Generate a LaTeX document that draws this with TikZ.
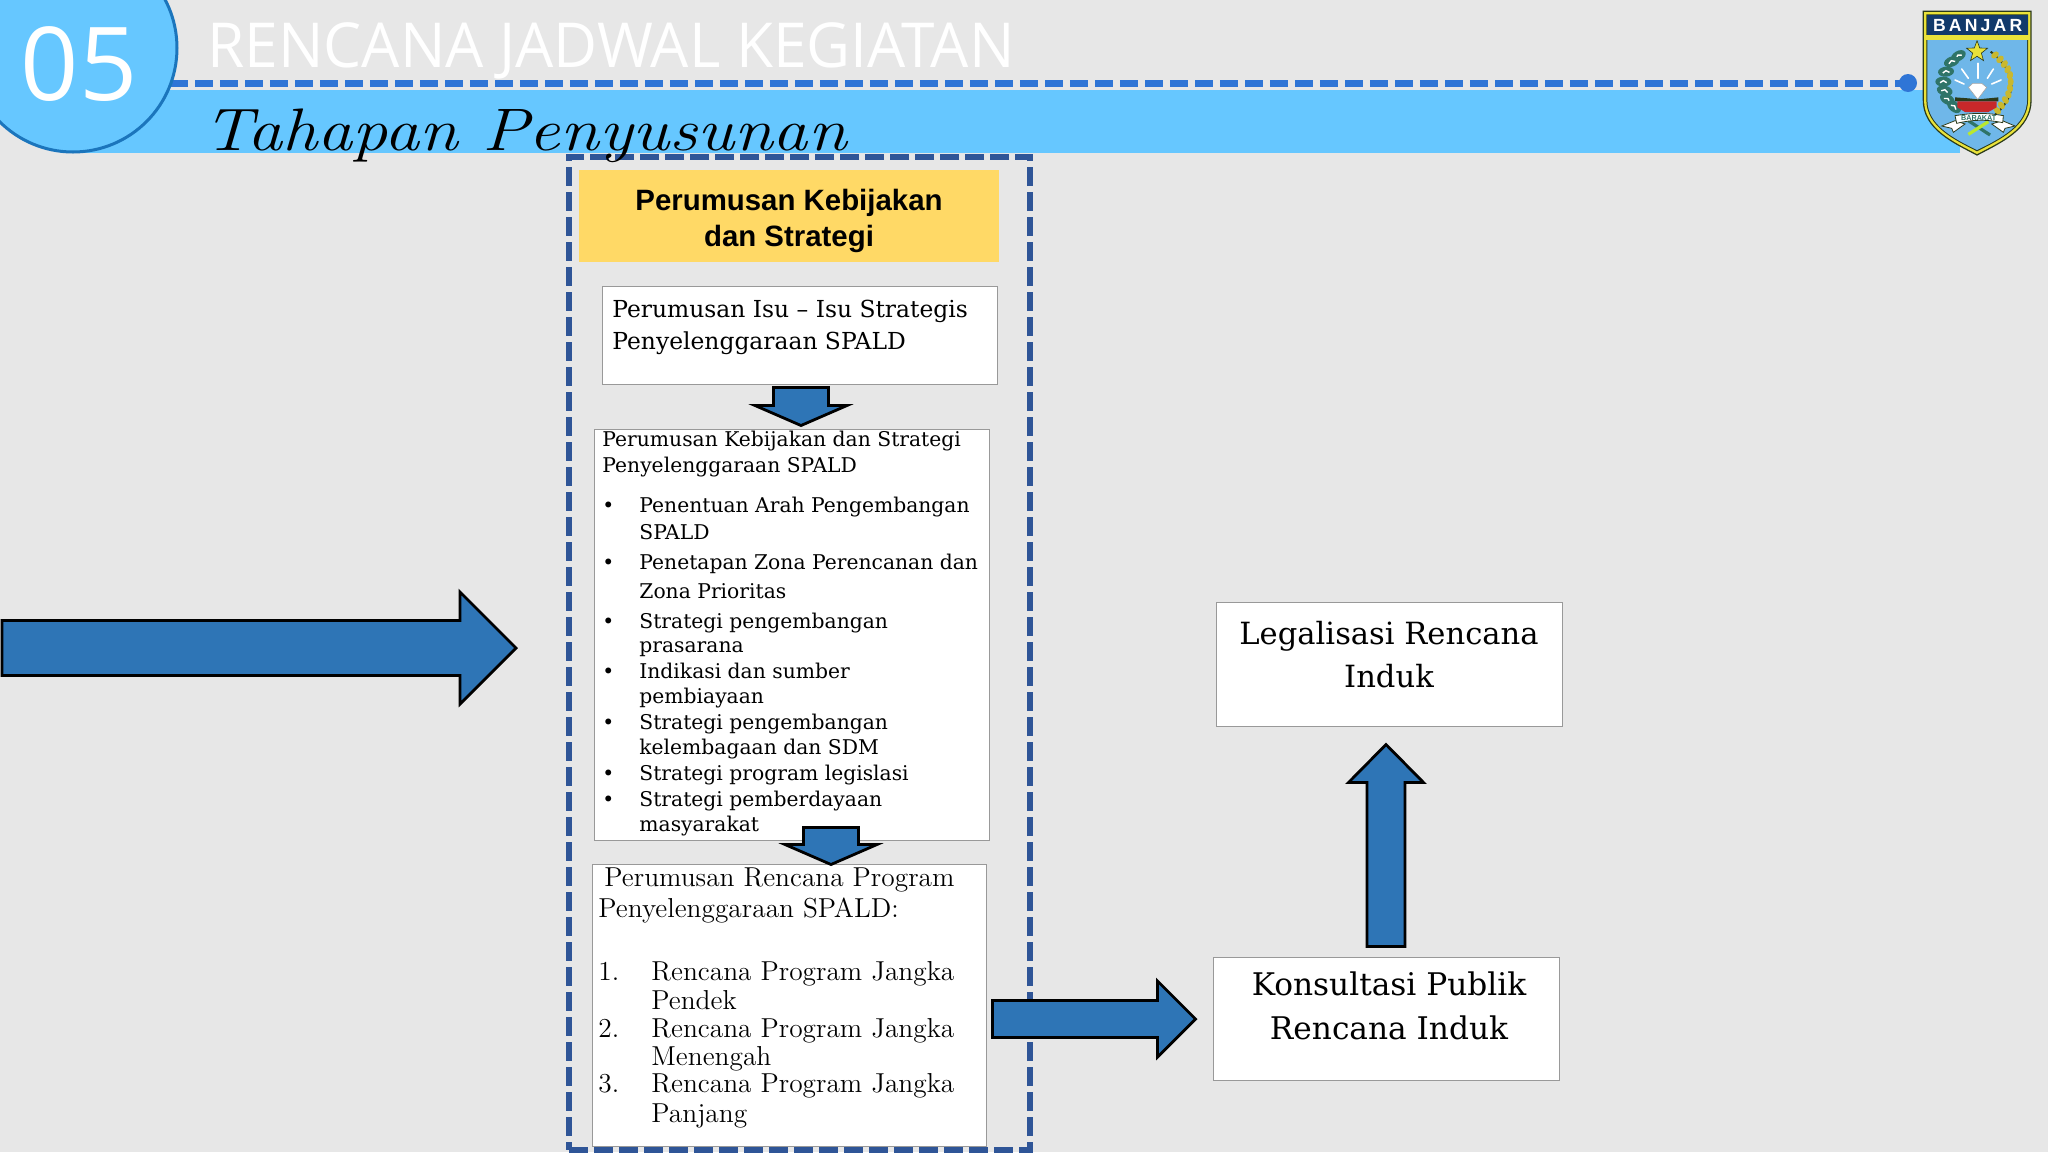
\documentclass[tikz,border=0pt]{standalone}
\usepackage{fontspec}
\usepackage{graphicx}
\usepackage{tikz}
\usetikzlibrary{calc, shapes.geometric}
\newfontfamily\titlefont{Open Sans}
\newfontfamily\headfont{Liberation Sans}
\newfontfamily\crestfont[LetterSpace=18]{Liberation Sans}
\newfontfamily\boxfont{DejaVu Serif}
\definecolor{pagegrey}{HTML}{E7E7E7}
\definecolor{bandblue}{HTML}{66C7FF}
\definecolor{ringblue}{HTML}{1B75BC}
\definecolor{dashblue}{HTML}{2F75D6}
\definecolor{framenavy}{HTML}{2F5597}
\definecolor{headyellow}{HTML}{FFD966}
\definecolor{arrowblue}{HTML}{2E75B6}
\definecolor{boxline}{HTML}{999999}
\definecolor{crestdark}{HTML}{2B3A1A}
\definecolor{crestyellow}{HTML}{E9E23A}
\definecolor{crestsky}{HTML}{6FB7E9}
\definecolor{crestnavy}{HTML}{123A6B}
\definecolor{crestteal}{HTML}{2F7468}
\definecolor{crestgold}{HTML}{C9B82E}
\definecolor{crestred}{HTML}{C8282A}
\tikzset{
  whitebox/.style={draw=boxline, line width=0.5pt, fill=white, inner sep=0pt},
  headbox/.style={fill=headyellow, inner sep=0pt},
  boxtext/.style={anchor=north west, inner sep=0pt, align=left},
  midtext/.style={inner sep=0pt, align=center},
  blockarrow/.style n args={3}{draw=black, fill=arrowblue, line width=1.4pt, to path={
    ($(\tikztostart)!#1!90:(\tikztotarget)$)
    -- ($(\tikztotarget)!#3!(\tikztostart)!#1!-90:(\tikztostart)$)
    -- ($(\tikztotarget)!#3!(\tikztostart)!#2!-90:(\tikztostart)$)
    -- (\tikztotarget)
    -- ($(\tikztotarget)!#3!(\tikztostart)!#2!90:(\tikztostart)$)
    -- ($(\tikztotarget)!#3!(\tikztostart)!#1!90:(\tikztostart)$)
    -- ($(\tikztostart)!#1!-90:(\tikztotarget)$) -- cycle}},
}
\newcommand{\listrow}[3]{\makebox[#1][l]{#2}#3}
\newcommand{\shieldpath}[1]{(248+#1,32+#1) -- (575-#1,32+#1) -- (575-#1,300)
  .. controls (575-#1,390-#1) and (480,430-#1) .. (411,467-1.2*#1)
  .. controls (342,430-#1) and (248+#1,390-#1) .. (248+#1,300) -- cycle}
\begin{document}
\begin{tikzpicture}[x=0.5pt, y=-0.5pt]
  \useasboundingbox (0,0) rectangle (2048,1152);
  \fill[pagegrey] (0,0) rectangle (2048,1152);
  % header
  \fill[bandblue] (60,90) rectangle (1960,153);
  \draw[dashblue, line width=3.5pt, dash pattern=on 9pt off 3.5pt] (170,83) -- (1908,83);
  \fill[dashblue] (1908,83) circle (9);
  \draw[ringblue, fill=bandblue, line width=1.5pt] (73,48) circle (104);
  \node[text=white, font=\titlefont\fontsize{51}{51}\selectfont, inner sep=0pt] (secnum) at (79,64) {05};
  \node[text=white, font=\titlefont\fontsize{31}{31}\selectfont, inner sep=0pt, anchor=base west] (sectitle) at (207,67)
    {\scalebox{0.974}[1]{RENCANA JADWAL KEGIATAN}};

  % dashed frame and boxes
  \node[draw=framenavy, line width=3pt, dash pattern=on 9.5pt off 3pt, minimum width=230.5pt, minimum height=496.5pt] (frame) at (799.5,653.5) {};
  \node[headbox, minimum width=210pt, minimum height=46pt] (head) at (789,216) {};
  \node[midtext, font=\headfont\bfseries\fontsize{14.7}{17.8}\selectfont] (headtext) at (789,221)
    {Perumusan Kebijakan\\dan Strategi};
  \node[whitebox, minimum width=197.5pt, minimum height=49pt] (isu) at (799.5,335) {};
  \node[whitebox, minimum width=197.5pt, minimum height=205.5pt] (kebijakan) at (791.5,634.5) {};
  \node[whitebox, minimum width=197pt, minimum height=141pt] (program) at (789,1005) {};
  \node[whitebox, minimum width=173pt, minimum height=62pt] (legal) at (1389,664) {};
  \node[whitebox, minimum width=173pt, minimum height=61.5pt] (konsul) at (1386,1018.5) {};
  \node[midtext, font=\boxfont\fontsize{15.3}{21.5}\selectfont] (legaltext) at (1389,655)
    {Legalisasi Rencana\\Induk};
  \node[midtext, font=\boxfont\fontsize{15.6}{22}\selectfont] (konsultext) at (1389,1006)
    {Konsultasi Publik\\Rencana Induk};

  \node[boxtext, font=\boxfont\fontsize{11.7}{16}\selectfont] (isutext) at (612,300)
    {Perumusan Isu – Isu Strategis\\Penyelenggaraan SPALD};
  \node[boxtext, font=\boxfont\fontsize{10.15}{12}\selectfont] (kebijakantext) at (602,431)
    {Perumusan Kebijakan dan Strategi\\[1pt]
     Penyelenggaraan SPALD\\[8pt]
     \listrow{18.5pt}{\textbullet}{Penentuan Arah Pengembangan}\\[1.5pt]
     \hspace*{18.5pt}SPALD\\[3pt]
     \listrow{18.5pt}{\textbullet}{Penetapan Zona Perencanan dan}\\[2.5pt]
     \hspace*{18.5pt}Zona Prioritas\\[3pt]
     \listrow{18.5pt}{\textbullet}{Strategi pengembangan}\\
     \hspace*{18.5pt}prasarana\\[1pt]
     \listrow{18.5pt}{\textbullet}{Indikasi dan sumber}\\[.5pt]
     \hspace*{18.5pt}pembiayaan\\[1pt]
     \listrow{18.5pt}{\textbullet}{Strategi pengembangan}\\[.5pt]
     \hspace*{18.5pt}kelembagaan dan SDM\\[1pt]
     \listrow{18.5pt}{\textbullet}{Strategi program legislasi}\\[1pt]
     \listrow{18.5pt}{\textbullet}{Strategi pemberdayaan}\\[.5pt]
     \hspace*{18.5pt}masyarakat};
  \node[boxtext, font=\fontsize{13.7}{13.9}\selectfont] (programtext) at (598,867)
    {\hspace*{3pt}Perumusan Rencana Program\\[2pt]
     Penyelenggaraan SPALD:\\[17.5pt]
     \listrow{26.5pt}{1.}{Rencana Program Jangka}\\[.5pt]
     \hspace*{26.5pt}Pendek\\
     \listrow{26.5pt}{2.}{Rencana Program Jangka}\\
     \hspace*{26.5pt}Menengah\\
     \listrow{26.5pt}{3.}{Rencana Program Jangka}\\[1pt]
     \hspace*{26.5pt}Panjang};

  % block arrows
  \coordinate (leftend) at (2,648);
  \draw[blockarrow={13.75pt}{23pt}{10pt}] ([shift={(1.5,3)}]isu.south) to ([shift={(9.5,-3)}]kebijakan.north);
  \draw[blockarrow={13.75pt}{23pt}{10pt}] ([shift={(39.5,-13)}]kebijakan.south) to ([shift={(42,1)}]program.north);
  \draw[blockarrow={13.75pt}{28pt}{28pt}] (leftend) to ([shift={(-50,-5.5)}]frame.west);
  \draw[blockarrow={9.25pt}{19pt}{19pt}] ([shift={(6,14)}]program.east) to ([shift={(-17,.5)}]konsul.west);
  \draw[blockarrow={9.5pt}{18.75pt}{19pt}] ([shift={(0,-10)}]konsul.north) to ([shift={(-3,18)}]legal.south);

  % sub title over band and frame
  \node[inner sep=0pt, anchor=base west, font=\itshape\fontsize{30}{30}\selectfont] (subtitle) at (203,150)
    {\scalebox{1.17}[1]{Tahapan Penyusunan}};

  % crest
  \begin{scope}[shift={(1840,0)}, x=0.16667pt, y=-0.16667pt]
    \fill[crestdark] \shieldpath{0};
    \fill[crestyellow] \shieldpath{4};
    \fill[crestdark] \shieldpath{11};
    \fill[crestsky] \shieldpath{14};
    \fill[crestyellow] (256,106) rectangle (567,119);
    \fill[crestnavy] (260,44) rectangle (563,106);
    \node[text=white, inner sep=0pt, font=\crestfont\bfseries\fontsize{8.8}{9}\selectfont] (crestname) at (413,76) {BANJAR};
    \node[star, star points=5, star point ratio=2.4, fill=crestyellow, draw=crestdark, line width=0.3pt, inner sep=0pt, minimum size=11pt] (creststar) at (411,155) {};
    \foreach \wx/\wy/\wa in {355/168/30, 335/185/20, 318/215/5, 310/245/0, 314/272/-15, 322/298/-30, 342/320/-40}{
      \fill[crestteal, shift={(\wx,\wy)}, rotate=\wa] (0,0) ellipse (24 and 15);
      \draw[white, line width=0.7pt, shift={(\wx,\wy)}, rotate=\wa] (-10,3) -- (0,-3) -- (10,3);
    }
    \draw[crestdark, line width=1pt] (452,155) .. controls (535,220) and (530,285) .. (465,345);
    \foreach \gx/\gy/\ga in {465/165/40, 480/178/45, 493/192/55, 503/208/65, 510/226/75, 512/245/90, 510/264/100, 505/283/110, 496/300/125, 484/316/130, 472/332/135}{
      \fill[crestgold, shift={(\gx,\gy)}, rotate=\ga] (0,0) ellipse (13 and 9);
    }
    \foreach \rx/\ry/\rex/\rey in {365/207/385/235, 414/190/414/235, 460/207/442/235, 345/240/372/252, 483/240/455/252}{
      \draw[white, line width=0.8pt, line cap=round] (\rx,\ry) -- (\rex,\rey);
    }
    \fill[white, draw=gray!70, line width=0.3pt] (385,262) -- (398,250) -- (425,250) -- (440,262) -- (413,298) -- cycle;
    \fill[crestdark] (345,292) -- (385,295) -- (413,298) -- (445,295) -- (475,292) -- (475,304) -- (345,304) -- cycle;
    \fill[crestred] (352,304) -- (470,304) -- (470,322) -- (445,336) -- (375,336) -- (352,322) -- cycle;
    \draw[crestteal, line width=1.6pt] (385,362) -- (450,405);
    \draw[crestyellow!80!green, line width=1.6pt] (385,403) -- (445,365);
    \fill[white, draw=crestdark, line width=0.4pt] (345,362) -- (305,378) -- (335,385) -- (340,397) -- (375,372) -- cycle;
    \fill[white, draw=crestdark, line width=0.4pt] (487,362) -- (525,378) -- (495,385) -- (490,397) -- (455,372) -- cycle;
    \fill[white, draw=crestdark, line width=0.4pt] (345,347) .. controls (400,338) and (440,338) .. (490,347) -- (488,368) .. controls (440,358) and (400,358) .. (350,370) -- cycle;
    \node[text=crestteal, inner sep=0pt, font=\headfont\bfseries\fontsize{3.6}{4}\selectfont] (crestmotto) at (416,354) {BARAKAT};
  \end{scope}
\end{tikzpicture}
\end{document}
